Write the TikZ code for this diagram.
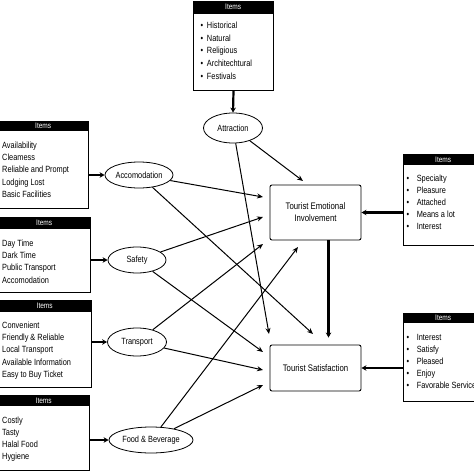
\documentclass[tikz,border=0pt]{standalone}
\usepackage{fontspec}
\setmainfont[FakeStretch=0.82]{Liberation Sans}
\usetikzlibrary{shapes.geometric,arrows.meta}
\newcommand{\bul}[1]{\textbullet\hspace{#1}}
\tikzset{
  itembox/.style={draw, line width=1pt, anchor=north west, inner sep=0, fill=white},
  hdr/.style={fill=black, text=white, anchor=north west, inner sep=0, font=\fontsize{8}{8}\selectfont},
  itemtxt/.style={anchor=north west, inner sep=0, align=left, font=\fontsize{9}{12.25}\selectfont},
  factor/.style={draw, ellipse, line width=0.8pt, inner sep=0, font=\fontsize{9}{10}\selectfont},
  outcome/.style={draw, rounded corners=2pt, line width=0.9pt, inner sep=0, align=center, font=\fontsize{9.5}{12}\selectfont},
  thinarr/.style={line width=1pt, -{Stealth[length=6pt,width=5pt]}},
  thickarr/.style={line width=2.2pt, -{Stealth[length=5pt,width=5.5pt]}},
}
\begin{document}
\begin{tikzpicture}[x=1pt,y=-1pt]
\useasboundingbox (0,0) rectangle (474,474);
\clip (0,0) rectangle (474,474);

% item boxes
\node[itembox, minimum width=80, minimum height=89.5] (topbox) at (193,0.5) {};
\node[hdr, minimum width=80, minimum height=13] (toph) at (topbox.north west) {Items};
\node[itemtxt, font=\fontsize{9}{12.75}\selectfont] (topt) at (200.5,21.7) {\bul{3.7pt}Historical\\\bul{3.7pt}Natural\\\bul{3.7pt}Religious\\\bul{3.7pt}Architechtural\\\bul{3.7pt}Festivals};

\node[itembox, minimum width=90, minimum height=87] (accbox) at (-2,121) {};
\node[hdr, minimum width=90, minimum height=10] (acch) at (accbox.north west) {Items};
\node[itemtxt] (acct) at (2,141.7) {Availability\\Cleamess\\Reliable and Prompt\\Lodging Lost\\Basic Facilities};

\node[itembox, minimum width=92, minimum height=75] (safebox) at (-2,217) {};
\node[hdr, minimum width=92, minimum height=12] (safeh) at (safebox.north west) {Items};
\node[itemtxt] (safet) at (2,239.7) {Day Time\\Dark Time\\Public Transport\\Accomodation};

\node[itembox, minimum width=93, minimum height=87] (transbox) at (-2,300) {};
\node[hdr, minimum width=93, minimum height=12] (transh) at (transbox.north west) {Items};
\node[itemtxt] (transt) at (2,321.7) {Convenient\\Friendly \& Reliable\\Local Transport\\Available Information\\Easy to Buy Ticket};

\node[itembox, minimum width=91, minimum height=75] (foodbox) at (-2,395) {};
\node[hdr, minimum width=91, minimum height=11] (foodh) at (foodbox.north west) {Items};
\node[itemtxt, font=\fontsize{9}{12}\selectfont] (foodt) at (2,416.7) {Costly\\Tasty\\Halal Food\\Hygiene};

\node[itembox, minimum width=80, minimum height=91] (teibox) at (403,154) {};
\node[hdr, minimum width=80, minimum height=11] (teih) at (teibox.north west) {Items};
\node[itemtxt, font=\fontsize{9}{12}\selectfont] (teit) at (406.5,174.7) {\bul{7.5pt}Specialty\\\bul{7.5pt}Pleasure\\\bul{7.5pt}Attached\\\bul{7.5pt}Means a lot\\\bul{7.5pt}Interest};

\node[itembox, minimum width=80, minimum height=88] (tsbox) at (403,313) {};
\node[hdr, minimum width=80, minimum height=10] (tsh) at (tsbox.north west) {Items};
\node[itemtxt, font=\fontsize{9}{12}\selectfont] (tst) at (406.5,333.7) {\bul{7.5pt}Interest\\\bul{7.5pt}Satisfy\\\bul{7.5pt}Pleased\\\bul{7.5pt}Enjoy\\\bul{7.5pt}Favorable Service};

% factors
\node[factor, minimum width=59, minimum height=30] (attr) at (233,128) {Attraction};
\node[factor, minimum width=68, minimum height=26] (acc) at (139,175) {Accomodation};
\node[factor, minimum width=58, minimum height=26] (safe) at (137,260) {Safety};
\node[factor, minimum width=59, minimum height=28] (trans) at (137,342) {Transport};
\node[factor, minimum width=84, minimum height=26] (food) at (151,440) {Food \& Beverage};

% outcomes
\node[outcome, minimum width=91, minimum height=55] (tei) at (315.5,212.5) {Tourist Emotional\\Involvement};
\node[outcome, minimum width=91, minimum height=46] (ts) at (315.5,368) {Tourist Satisfaction};

% arrow targets
\coordinate (ateia) at (303,181);
\coordinate (atsa) at (269,334);
\coordinate (ateib) at (263,197);
\coordinate (atsb) at (313,334);
\coordinate (ateic) at (263,217);
\coordinate (atsc) at (263,352);
\coordinate (ateid) at (263,244);
\coordinate (atsd) at (263,370);
\coordinate (ateie) at (298,247);
\coordinate (atse) at (263,385);

% thin arrows
\draw[thinarr] (attr) -- (ateia);
\draw[thinarr] (attr) -- (atsa);
\draw[thinarr] (acc) -- (ateib);
\draw[thinarr] (acc) -- (atsb);
\draw[thinarr] (safe) -- (ateic);
\draw[thinarr] (safe) -- (atsc);
\draw[thinarr] (trans) -- (ateid);
\draw[thinarr] (trans) -- (atsd);
\draw[thinarr] (food) -- (ateie);
\draw[thinarr] (food) -- (atse);

% thick arrows
\draw[thickarr] (topbox.south) -- (attr.north);
\draw[thickarr] (accbox.east |- acc) -- (acc.west);
\draw[thickarr] (safebox.east |- safe) -- (safe.west);
\draw[thickarr] (transbox.east |- trans) -- (trans.west);
\draw[thickarr] (foodbox.east |- food) -- (food.west);
\draw[thickarr] (teibox.west |- tei) -- (tei.east);
\draw[thickarr] (tsbox.west |- ts) -- (ts.east);
\draw[thickarr, shorten >=7pt] ([xshift=13]tei.south) -- ([xshift=13]ts.north);
\end{tikzpicture}
\end{document}
